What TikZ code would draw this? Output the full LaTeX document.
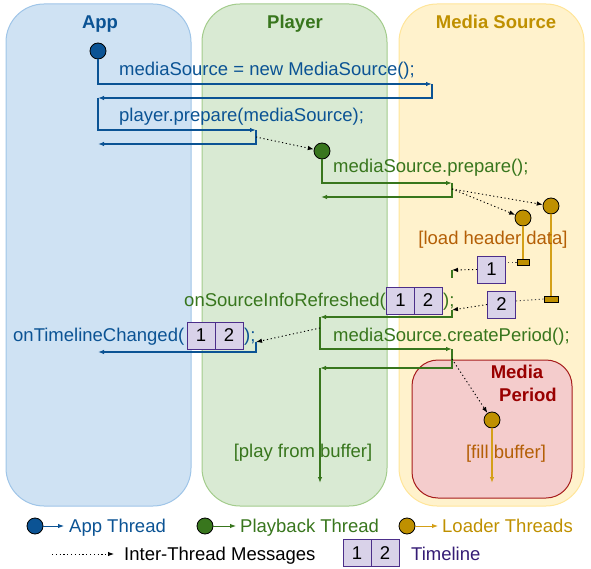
\documentclass[tikz,border=0pt]{standalone}
\usepackage{fontspec}
\setmainfont{Liberation Sans}
\usetikzlibrary{arrows.meta}
\definecolor{appc}{HTML}{0B5394}
\definecolor{playc}{HTML}{38761D}
\definecolor{loadc}{HTML}{BF9000}
\definecolor{loadl}{HTML}{D4A017}
\definecolor{orgc}{HTML}{B45F06}
\definecolor{appf}{HTML}{CFE2F3}
\definecolor{appb}{HTML}{9FC5E8}
\definecolor{plf}{HTML}{D9EAD3}
\definecolor{plb}{HTML}{A3CC8C}
\definecolor{msf}{HTML}{FFF2CC}
\definecolor{msb}{HTML}{FFE599}
\definecolor{perf}{HTML}{F4CCCC}
\definecolor{perb}{HTML}{A61C1C}
\definecolor{perc}{HTML}{990000}
\definecolor{tlf}{HTML}{D9D2E9}
\definecolor{tlb}{HTML}{4C2E8A}
\definecolor{tlt}{HTML}{351C75}
\newcommand{\fs}{\fontsize{18.5}{22}\selectfont}
\tikzset{
  lane/.style={rounded corners=38pt, line width=1pt},
  thr/.style={circle, draw=black, line width=0.8pt, minimum size=16pt, inner sep=0pt},
  arr/.style={-{Latex[length=6pt,width=4.5pt]}},
  appline/.style={draw=appc, line width=1.2pt},
  playline/.style={draw=playc, line width=1.2pt},
  loadline/.style={draw=loadl, line width=1.2pt},
  msg/.style={draw=black, line width=0.9pt, dash pattern=on 1.2pt off 2.6pt, -{Latex[length=6pt,width=4.5pt]}},
  msgplain/.style={draw=black!70, line width=0.9pt, dash pattern=on 1.2pt off 2.6pt},
  tl/.style={draw=tlb, fill=tlf, line width=1pt, minimum width=28pt, minimum height=27pt, inner sep=0pt, font=\fs, text=black},
  rr/.style={draw=black, fill=loadc, line width=0.7pt, minimum width=12pt, minimum height=6pt, inner sep=0pt},
  lbl/.style={inner sep=0pt, anchor=base west, font=\fs},
  ttl/.style={inner sep=0pt, anchor=base, font=\fs\bfseries},
}
\begin{document}
\begin{tikzpicture}[x=1pt,y=-1pt]
\useasboundingbox (0,0) rectangle (591,569);
% lanes
\draw[lane, fill=appf, draw=appb] (6,4) rectangle (191,506);
\draw[lane, fill=plf, draw=plb] (202,4) rectangle (387,506);
\draw[lane, fill=msf, draw=msb] (399,4) rectangle (584,506);
\draw[rounded corners=26pt, fill=perf, draw=perb, line width=1pt] (412,360) rectangle (572,498);
% titles
\node[ttl, text=appc] (tApp) at (100,29) {App};
\node[ttl, text=playc] (tPl) at (295,29) {Player};
\node[ttl, text=loadc] (tMs) at (496,29) {Media Source};
\node[ttl, text=perc] (tMp1) at (517,378) {Media};
\node[ttl, text=perc] (tMp2) at (528,401) {Period};
% app thread
\node[thr, fill=appc] (a0) at (98,51) {};
\coordinate (a1) at (432,84);
\coordinate (a2) at (98,98);
\coordinate (a3) at (256,130);
\coordinate (a4) at (98,144);
\coordinate (am) at (256,137);
\draw[appline, arr] (a0) |- (a1);
\draw[appline, arr] (a1) |- (a2);
\draw[appline, arr] (a2) |- (a3);
\draw[appline, arr] (a3) |- (a4);
\node[lbl, text=appc] (m1) at (119,76) {mediaSource = new MediaSource();};
\node[lbl, text=appc] (m2) at (119,122) {player.prepare(mediaSource);};
% playback thread
\node[thr, fill=playc] (p0) at (322,151) {};
\draw[msg] (am) -- (p0);
\coordinate (p1) at (452,183);
\coordinate (p2) at (321,197);
\draw[playline, arr] (p0) |- (p1);
\draw[playline, arr] (p1) |- (p2);
\node[lbl, text=playc] (m3) at (333,173) {mediaSource.prepare();};
% loaders
\coordinate (pm) at (452,189);
\node[thr, fill=loadc] (l1) at (523,218) {};
\node[thr, fill=loadc] (l2) at (551,206) {};
\draw[msg] (pm) -- (l1);
\draw[msg] (pm) -- (l2);
\node[rr] (r1) at (523,262) {};
\node[rr, minimum width=14pt] (r2) at (551,299) {};
\draw[loadline] (l1) -- (r1);
\draw[loadline] (l2) -- (r2);
\node[inner sep=0pt, anchor=base, font=\fs, text=orgc] (lh) at (493,244) {[load header data]};
% timelines from loaders
\node[tl] (t1) at (491.5,269.5) {1};
\node[tl] (t2) at (501.5,304.5) {2};
\coordinate (t2e) at (516,301);
\draw[msgplain] (r1.west) -- (t1.east |- r1.west);
\draw[msgplain] (r2.west) -- (t2e);
\coordinate (q1) at (452,270);
\coordinate (q1b) at (452,278);
\draw[msg] (t1.west) -- (q1);
\draw[playline] (q1) -- (q1b);
\coordinate (q2) at (452,310);
\coordinate (q3) at (320,317);
\draw[msg] (t2.west) -- (q2);
\draw[playline, arr] (q2) |- (q3);
\coordinate (q4) at (452,349);
\coordinate (q5) at (320,368);
\coordinate (q6) at (320,483);
\draw[playline, arr] (q3) |- (q4);
\draw[playline, arr] (q4) |- (q5);
\draw[playline, arr] (q5) -- (q6);
\node[lbl, text=playc] (m4) at (333,341) {mediaSource.createPeriod();};
\node[inner sep=0pt, anchor=base, font=\fs, text=playc] (pb) at (303,457) {[play from buffer]};
% onSourceInfoRefreshed
\node[tl] (s1) at (400.5,300.5) {1};
\node[tl] (s2) at (428,300.5) {2};
\node[lbl, anchor=base east, text=playc] (m5) at (386,306) {onSourceInfoRefreshed(};
\node[lbl, text=playc] (m5b) at (443,306) {);};
% onTimelineChanged
\coordinate (qm) at (320,328);
\coordinate (b1) at (256,342);
\coordinate (b2) at (98,352);
\draw[msg] (qm) -- (b1);
\draw[appline, arr] (b1) |- (b2);
\node[tl] (c1) at (201,335.5) {1};
\node[tl] (c2) at (229,335.5) {2};
\node[lbl, text=appc] (m6) at (13,341) {onTimelineChanged(};
\node[lbl, text=appc] (m6b) at (244,341) {);};
% media period loader
\coordinate (qm2) at (452,359);
\node[thr, fill=loadc] (l3) at (492,420) {};
\draw[msg] (qm2) -- (l3);
\coordinate (l3e) at (492,483);
\draw[loadline, arr] (l3) -- (l3e);
\node[inner sep=0pt, anchor=base, font=\fs, text=orgc] (fb) at (506,458) {[fill buffer]};
% legend
\node[thr, fill=appc] (ka) at (35,526) {};
\coordinate (kae) at (64,526);
\draw[appline, line width=1pt, arr] (ka) -- (kae);
\node[lbl, text=appc] (kat) at (69,532) {App Thread};
\node[thr, fill=playc] (kp) at (205,526) {};
\coordinate (kpe) at (236,526);
\draw[playline, line width=1pt, arr] (kp) -- (kpe);
\node[lbl, text=playc] (kpt) at (240,532) {Playback Thread};
\node[thr, fill=loadc] (kl) at (407,526) {};
\coordinate (kle) at (438,526);
\draw[loadline, line width=1pt, arr] (kl) -- (kle);
\node[lbl, text=loadc] (klt) at (442,532) {Loader Threads};
\coordinate (km0) at (52,554);
\coordinate (km1) at (114,554);
\draw[msg] (km0) -- (km1);
\node[lbl, text=black] (kmt) at (124,560) {Inter-Thread Messages};
\node[tl] (g1) at (357,553) {1};
\node[tl] (g2) at (385,553) {2};
\node[lbl, text=tlt] (kgt) at (411,560) {Timeline};
\end{tikzpicture}
\end{document}
